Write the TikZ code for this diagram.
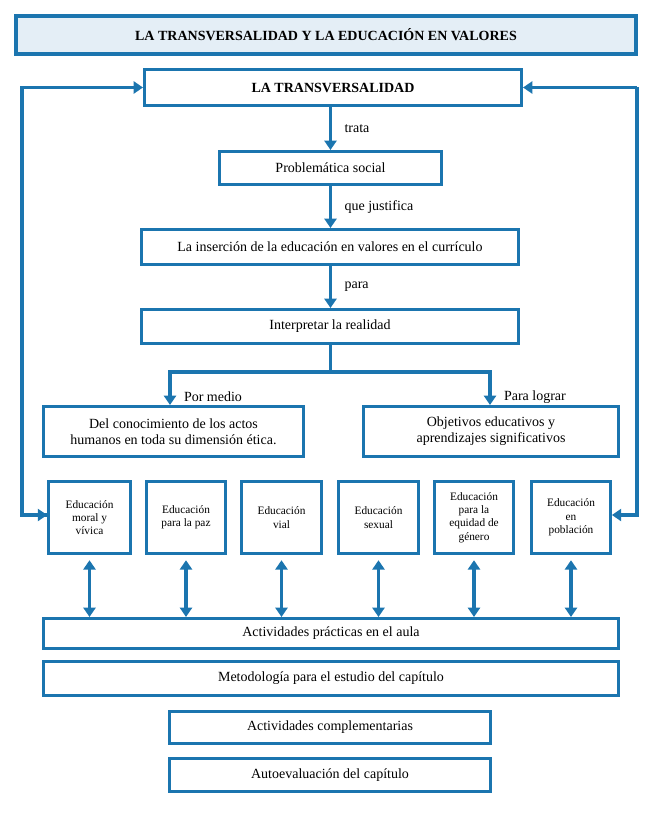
\documentclass[tikz,border=0pt]{standalone}
\usepackage{fontspec}
\setmainfont{Liberation Serif}
\usetikzlibrary{arrows.meta}
\definecolor{BoxBlue}{HTML}{1B75AF}
\definecolor{TitleFill}{HTML}{E4EEF6}
\begin{document}
\begin{tikzpicture}[x=0.75pt,y=-0.75pt,
    box/.style={draw=BoxBlue,line width=2.6pt,fill=white,inner sep=1pt,align=center,font=\fontsize{10.5}{12}\selectfont},
    small/.style={box,line width=2.4pt,font=\fontsize{8.5}{10}\selectfont},
    arr/.style={draw=BoxBlue,line width=2.4pt,line join=miter,-{Triangle[length=7pt,width=9pt]}},
    darr/.style={draw=BoxBlue,line width=2.4pt,{Triangle[length=7pt,width=9pt]}-{Triangle[length=7pt,width=9pt]}},
    lbl/.style={font=\fontsize{10.5}{12}\selectfont,anchor=west}]
\useasboundingbox (0,0) rectangle (652,817);
\newcommand{\bx}[6][box]{\node[#1,minimum width=#4*0.75pt-2.6pt,minimum height=#5*0.75pt-2.6pt] (#2) at (#3) {#6};}
\node[box,fill=TitleFill,minimum width=620*0.75pt,minimum height=38*0.75pt,font=\fontsize{10.5}{12}\selectfont\bfseries] (title) at (326,35) {LA TRANSVERSALIDAD Y LA EDUCACIÓN EN VALORES};
\bx{trans}{333,87.5}{380}{39}{\textbf{LA TRANSVERSALIDAD}}
\bx{prob}{330.5,168}{225}{36}{Problemática social}
\bx{ins}{330,247}{380}{38}{La inserción de la educación en valores en el currículo}
\bx{int}{330,326.5}{380}{37}{Interpretar la realidad}
\bx{conoc}{173.5,431.5}{263}{53}{Del conocimiento de los actos\\humanos en toda su dimensión ética.}
\bx{obj}{491,431.5}{258}{53}{Objetivos educativos y\\aprendizajes significativos}
\bx[small]{e1}{89.5,517.5}{85}{75}{Educación\\moral y\\vívica}
\bx[small]{e2}{186,517.5}{82}{75}{Educación\\para la paz}
\bx[small]{e3}{281.5,517.5}{83}{75}{Educación\\vial}
\bx[small]{e4}{378.5,517.5}{83}{75}{Educación\\sexual}
\bx[small]{e5}{474,517.5}{82}{75}{Educación\\para la\\equidad de\\género}
\bx[small]{e6}{571,517.5}{82}{75}{Educación\\en\\población}
\bx{act}{331,633.5}{578}{33}{Actividades prácticas en el aula}
\bx{met}{331,678.5}{578}{37}{Metodología para el estudio del capítulo}
\bx{comp}{330,727.5}{324}{35}{Actividades complementarias}
\bx{auto}{330,775}{324}{36}{Autoevaluación del capítulo}
% main chain
\draw[arr] (trans.south -| prob.north) -- (prob.north) node[midway,lbl,xshift=6pt] {trata};
\draw[arr] (prob) -- (prob.south |- ins.north) node[midway,lbl,xshift=6pt] {que justifica};
\draw[arr] (ins.south -| prob.north) -- (int.north -| prob.north) node[midway,lbl,xshift=6pt] {para};
\coordinate (bm) at (330.5,372);
\coordinate (bl) at (170,372);
\coordinate (br) at (490,372);
\draw[draw=BoxBlue,line width=2.4pt] (int.south -| bm) -- (bm);
\draw[arr] (bm) -- (bl) -- (bl |- conoc.north) node[pos=0.75,lbl,xshift=6pt] {Por medio};
\draw[arr] (bm) -- (br) -- (br |- obj.north) node[pos=0.75,lbl,xshift=6pt] {Para lograr};
% side loops
\coordinate (lt) at (22,87.5);
\coordinate (lb) at (22,515);
\coordinate (rt) at (637,87.5);
\coordinate (rb) at (637,515);
\draw[arr] (e1.west |- lb) -- (lb) -- (lt) -- (trans.west);
\draw[arr] (lt) -- (lb) -- (e1.west |- lb);
\draw[arr] (rt) -- (trans.east);
\draw[arr] (rt) -- (rb) -- (e6.east |- rb);
% double arrows
\foreach \e in {e1,e2,e3,e4,e5,e6}{
  \draw[darr] ([yshift=-4pt]\e.south) -- (\e.south |- act.north) ;
}
\end{tikzpicture}
\end{document}
